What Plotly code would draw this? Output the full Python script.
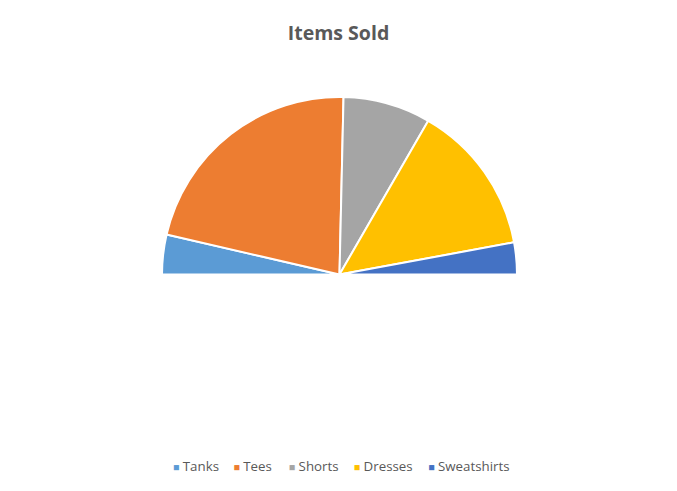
import plotly.graph_objects as go

categories = ["Tanks", "Tees", "Shorts", "Dresses", "Sweatshirts"]
values = [5, 30, 11, 19, 4]
colors = ["#5B9BD5", "#ED7D31", "#A5A5A5", "#FFC000", "#4472C4"]
title_text = "Items Sold"

total = sum(values)
pie_labels = categories + ["Total"]
pie_values = values + [total]
pie_colors = colors + ["rgba(0,0,0,0)"]
line_widths = [2] * len(values) + [0]

W, H = 677, 491
OFF = 8  # page body margin
cx, cy, r = 339.5 - OFF, 274.5 - OFF, 177.5

FONT = "Open Sans, Liberation Sans, sans-serif"
GREY = "#595959"

fig = go.Figure()
fig.add_trace(go.Pie(
    labels=pie_labels,
    values=pie_values,
    sort=False,
    direction="clockwise",
    rotation=270,
    textinfo="none",
    hoverinfo="skip",
    showlegend=False,
    marker=dict(colors=pie_colors, line=dict(color="white", width=line_widths)),
    domain=dict(x=[(cx - r) / W, (cx + r) / W], y=[1 - (cy + r) / H, 1 - (cy - r) / H]),
))

# legend entries: one small legend per category, square glyph in series colour
legend_left = [173.0, 233.5, 288.8, 353.8, 428.2]
layout_legends = {}
for i, (name, col) in enumerate(zip(categories, colors)):
    key = "legend" if i == 0 else f"legend{i + 1}"
    fig.add_trace(go.Scatter(
        x=[None], y=[None], mode="markers",
        name=f"<span style='color:{col};font-size:10.5px'>■</span> {name}",
        marker=dict(symbol="square", size=1, color="rgba(0,0,0,0)"),
        legend=key, showlegend=True,
    ))
    layout_legends[key] = dict(
        x=(legend_left[i] - OFF - 40) / W, xanchor="left",
        y=1 - (466 - OFF) / H, yanchor="middle",
        font=dict(family=FONT, size=13.3, color=GREY),
        itemwidth=30, bgcolor="rgba(0,0,0,0)", borderwidth=0,
    )

fig.update_layout(
    width=W, height=H,
    margin=dict(l=0, r=0, t=0, b=0),
    paper_bgcolor="white", plot_bgcolor="white",
    title=dict(text="<b>" + title_text + "</b>", x=(338.5 - OFF) / W, xanchor="center",
               y=1 - (33 - OFF) / H, yanchor="middle",
               font=dict(family=FONT, size=19.5, color=GREY)),
    xaxis=dict(visible=False), yaxis=dict(visible=False),
    **layout_legends,
)

fig.write_html("out.html")
